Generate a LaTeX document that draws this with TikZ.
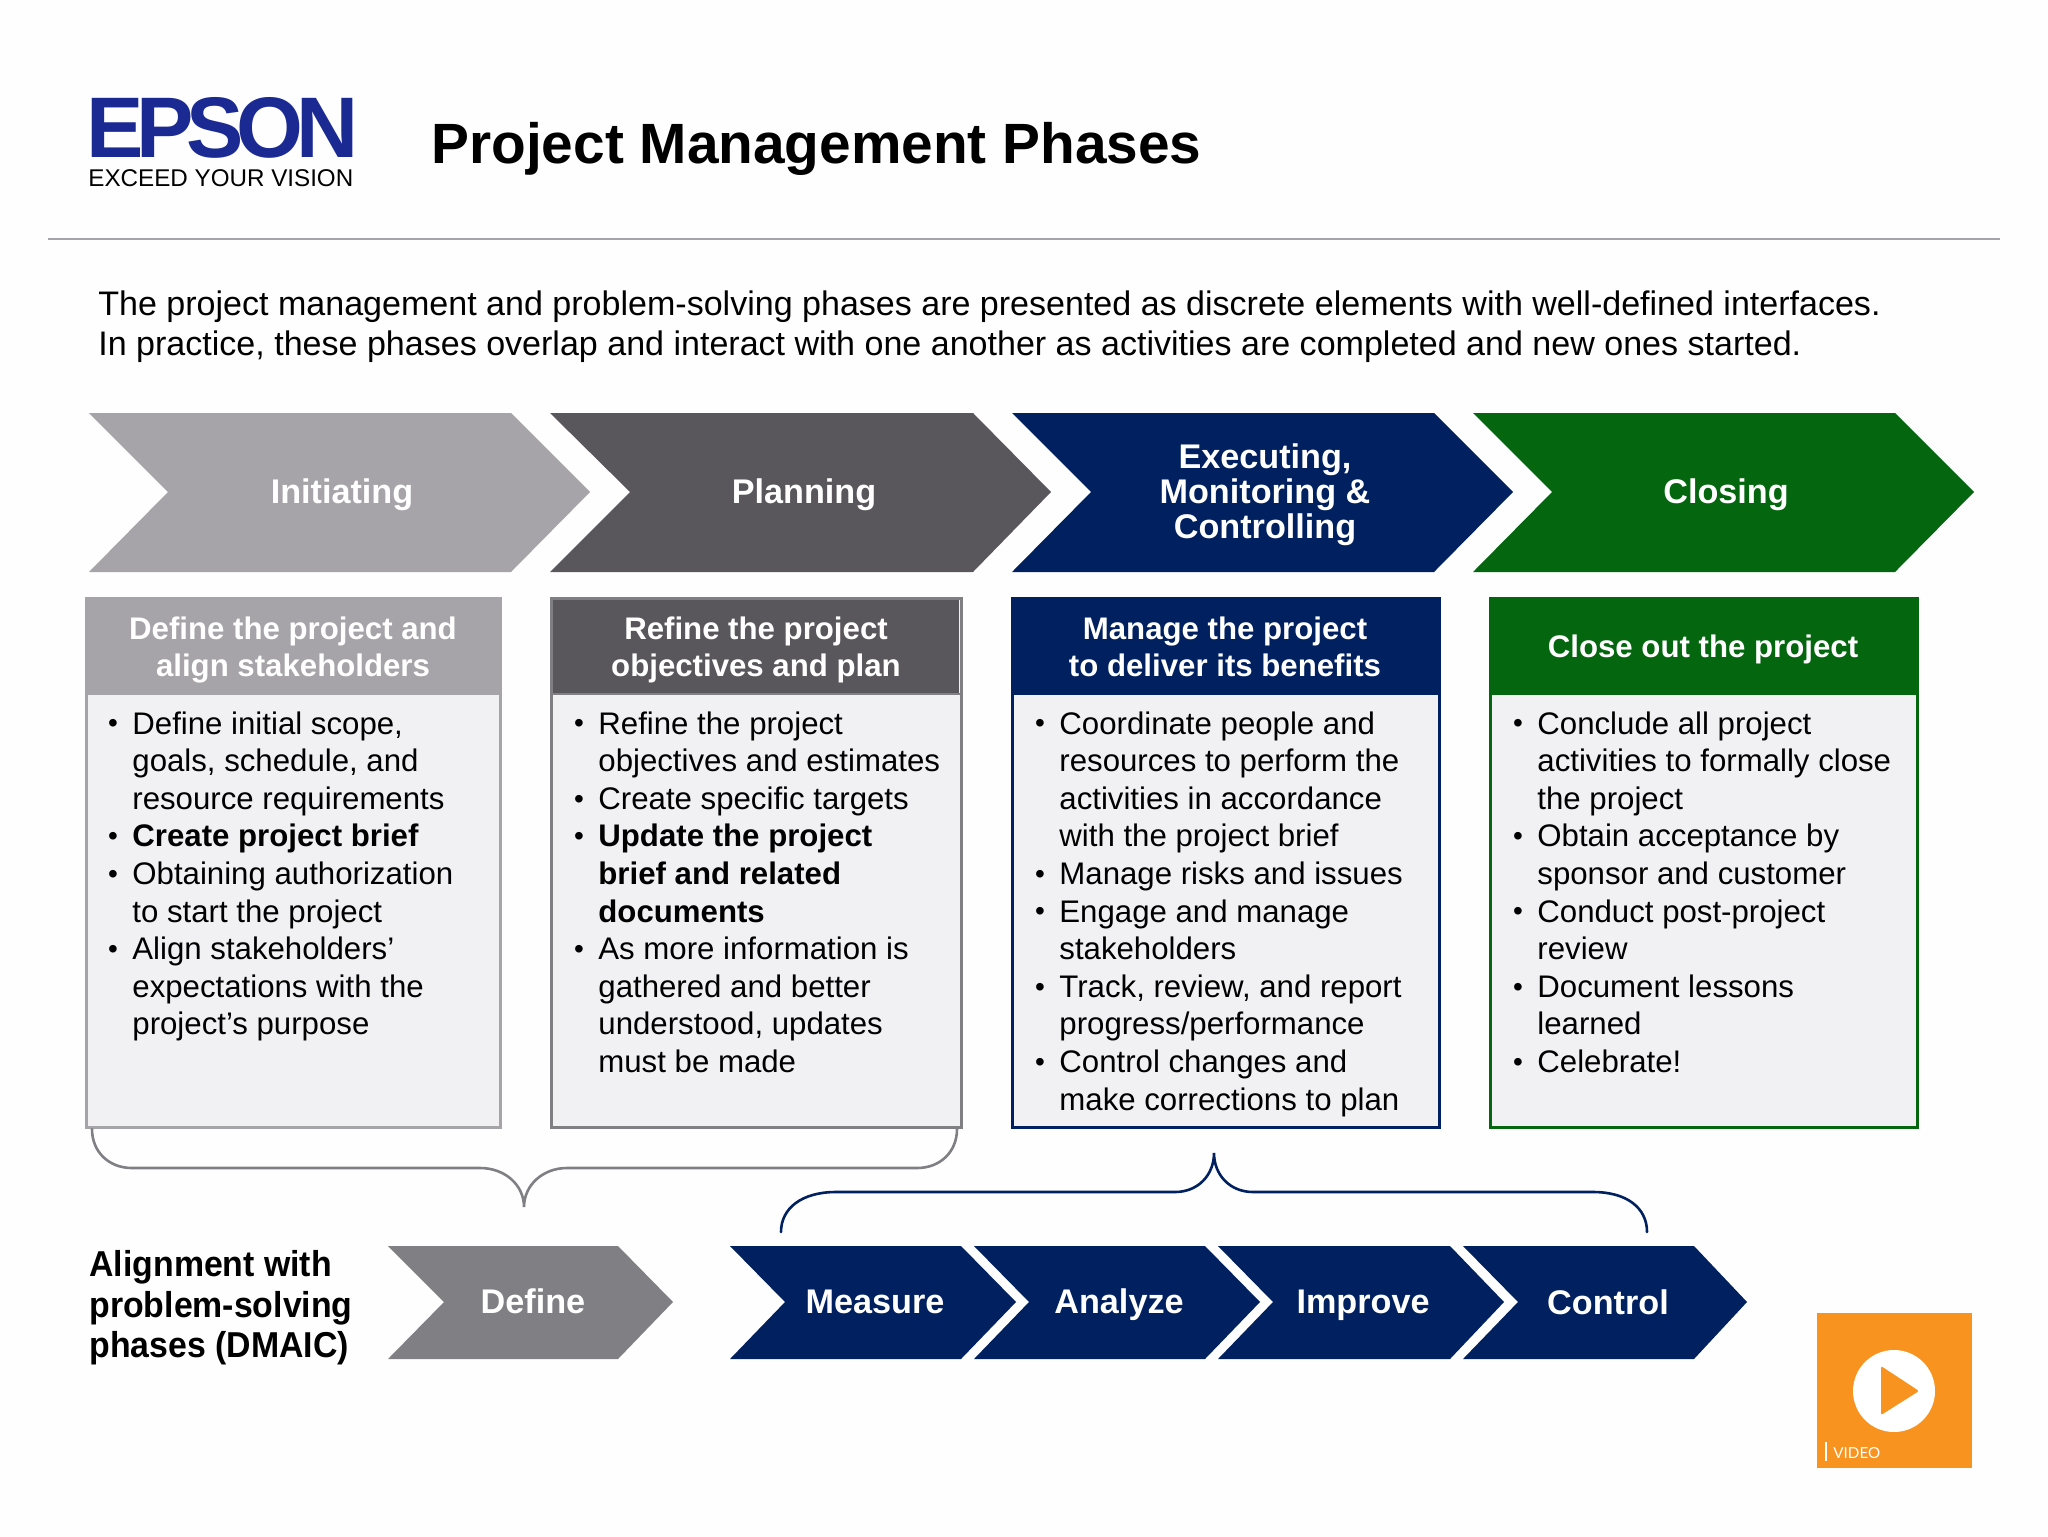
\documentclass[tikz,border=0pt]{standalone}
\usepackage{fontspec}
\setmainfont{Liberation Sans}
\newfontfamily\logofont[LetterSpace=-8.5]{Liberation Sans}
\newfontfamily\tilefont{Lato}
\newfontfamily\narrowfont[FakeStretch=0.94]{Liberation Sans}
\definecolor{pagebg}{HTML}{FEFEFE}
\definecolor{initgray}{HTML}{A6A4A8}
\definecolor{plangray}{HTML}{59575B}
\definecolor{execblue}{HTML}{00205F}
\definecolor{closegreen}{HTML}{04670F}
\definecolor{definegray}{HTML}{807F83}
\definecolor{panelbg}{HTML}{F1F0F3}
\definecolor{logoblue}{HTML}{1B2A93}
\definecolor{tileorange}{HTML}{F7931E}
\newcommand{\itm}{\llap{\raisebox{0.6pt}{\fontsize{14}{12}\selectfont\textbullet}\hspace{7.2pt}}}
\tikzset{
  phasetext/.style={text=white,font=\fontsize{17.1}{17.5}\selectfont\bfseries,align=center,inner sep=0pt},
  headtext/.style={text=white,font=\fontsize{15.6}{18.8}\selectfont\bfseries,align=center,inner sep=0pt},
  listtext/.style={anchor=north west,inner sep=0pt,align=left,font=\fontsize{15.6}{18.8}\selectfont},
  panel/.style={fill=panelbg,line width=1.5pt},
  bracket/.style={line width=1.3pt,line cap=round},
}
\begin{document}
\begin{tikzpicture}[x=0.5pt,y=-0.5pt]
\useasboundingbox (0,0) rectangle (2048,1536);
\fill[pagebg] (0,0) rectangle (2048,1536);
% header
\node[anchor=west,inner sep=0pt,text=logoblue,font=\fontsize{43}{43}\logofont\bfseries] (logo) at (86,128) {EPSON};
\node[anchor=west,inner sep=0pt,font=\fontsize{12.1}{12.1}\selectfont] (slogan) at (88,178) {EXCEED YOUR VISION};
\node[anchor=west,inner sep=0pt,font=\fontsize{28.4}{30}\selectfont\bfseries] (title) at (431,149) {Project Management Phases};
\draw[initgray,line width=1pt] (48,239) -- (2000,239);
\node[anchor=north west,inner sep=0pt,align=left,font=\fontsize{17.02}{20.4}\selectfont] (intro) at (98,290) {The project management and problem-solving phases are presented as discrete elements with well-defined interfaces.\\In practice, these phases overlap and interact with one another as activities are completed and new ones started.};
% phase chevrons
\fill[initgray] (89,413) -- (511,413) -- (590,492) -- (511,572) -- (89,572) -- (168,492) -- cycle;
\fill[plangray] (550,413) -- (973,413) -- (1051,492) -- (973,572) -- (550,572) -- (630,492) -- cycle;
\fill[execblue] (1012,413) -- (1434,413) -- (1513,492) -- (1434,572) -- (1012,572) -- (1091,492) -- cycle;
\fill[closegreen] (1473,413) -- (1895,413) -- (1974,492) -- (1895,572) -- (1473,572) -- (1552,492) -- cycle;
\node[phasetext] (initiating) at (342,495) {Initiating};
\node[phasetext] (planning) at (804,495) {Planning};
\node[phasetext] (executing) at (1265,495) {Executing,\\Monitoring \&\\Controlling};
\node[phasetext] (closing) at (1726,495) {Closing};
% panels
\draw[panel,draw=initgray] (86,598) rectangle (500,1127);
\fill[initgray] (85,597) rectangle (501,695);
\draw[panel,draw=definegray] (551,598) rectangle (961,1127);
\fill[plangray] (553,600) rectangle (959,693);
\draw[panel,draw=execblue] (1012,598) rectangle (1439,1127);
\fill[execblue] (1011,597) rectangle (1440,695);
\draw[panel,draw=closegreen] (1490,598) rectangle (1917,1127);
\fill[closegreen] (1489,597) rectangle (1918,695);
\draw[definegray,line width=1pt] (551,694) -- (961,694);
\node[headtext] (inithead) at (293,650) {Define the project and\\align stakeholders};
\node[headtext] (planhead) at (756,650) {Refine the project\\objectives and plan};
\node[headtext] (exechead) at (1225,647) {Manage the project\\to deliver its benefits};
\node[headtext] (closehead) at (1703,649) {Close out the project};
\node[listtext] (initlist) at (132,711) {\itm Define initial scope,\\goals, schedule, and\\resource requirements\\\itm\textbf{Create project brief}\\\itm Obtaining authorization\\to start the project\\\itm Align stakeholders’\\expectations with the\\project’s purpose};
\node[listtext] (planlist) at (598,711) {\itm Refine the project\\objectives and estimates\\\itm Create specific targets\\\itm\textbf{Update the project}\\\textbf{brief and related}\\\textbf{documents}\\\itm As more information is\\gathered and better\\understood, updates\\must be made};
\node[listtext] (execlist) at (1059,711) {\itm Coordinate people and\\resources to perform the\\activities in accordance\\with the project brief\\\itm Manage risks and issues\\\itm Engage and manage\\stakeholders\\\itm Track, review, and report\\progress/performance\\\itm Control changes and\\make corrections to plan};
\node[listtext] (closelist) at (1537,711) {\itm Conclude all project\\activities to formally close\\the project\\\itm Obtain acceptance by\\sponsor and customer\\\itm Conduct post-project\\review\\\itm Document lessons\\learned\\\itm Celebrate!};
% braces
\coordinate (graycusp) at (524,1207);
\coordinate (bluecusp) at (1214,1153);
\draw[bracket,definegray] (92,1129) .. controls (92,1152) and (109,1168) .. (132,1168) -- (480,1168) .. controls (505,1168) and (524,1185) .. (graycusp) .. controls (524,1185) and (543,1168) .. (567,1168) -- (917,1168) .. controls (940,1168) and (957,1152) .. (957,1129);
\draw[bracket,execblue] (781,1232) .. controls (781,1208) and (802,1192) .. (836,1192) -- (1175,1192) .. controls (1198,1192) and (1214,1175) .. (bluecusp) .. controls (1214,1175) and (1230,1192) .. (1253,1192) -- (1593,1192) .. controls (1627,1192) and (1647,1208) .. (1647,1232);
% dmaic row
\node[anchor=west,inner sep=0pt,align=left,font=\fontsize{18}{20.25}\narrowfont\bfseries] (dmaiclabel) at (89,1308) {Alignment with\\problem-solving\\phases (DMAIC)};
\fill[definegray] (388,1246) -- (618,1246) -- (673,1302) -- (618,1359) -- (388,1359) -- (444,1302) -- cycle;
\fill[execblue] (730,1246) -- (961,1246) -- (1016,1302) -- (961,1359) -- (730,1359) -- (785,1302) -- cycle;
\fill[execblue] (974,1246) -- (1205,1246) -- (1260,1302) -- (1205,1359) -- (974,1359) -- (1029,1302) -- cycle;
\fill[execblue] (1218,1246) -- (1450,1246) -- (1504,1302) -- (1450,1359) -- (1218,1359) -- (1273,1302) -- cycle;
\fill[execblue] (1463,1246) -- (1694,1246) -- (1747,1302) -- (1694,1359) -- (1463,1359) -- (1518,1302) -- cycle;
\node[phasetext] (define) at (533,1301) {Define};
\node[phasetext] (measure) at (875,1302) {Measure};
\node[phasetext] (analyze) at (1119,1305) {Analyze};
\node[phasetext] (improve) at (1363,1305) {Improve};
\node[phasetext] (control) at (1608,1302) {Control};
% video tile
\fill[tileorange] (1817,1313) rectangle (1972,1468);
\fill[white] (1894,1391) circle (41);
\fill[tileorange,rounded corners=1pt] (1881,1366) -- (1919,1391) -- (1881,1415) -- cycle;
\draw[white,line width=0.6pt] (1826,1442) -- (1826,1461);
\node[anchor=west,inner sep=0pt,text=white,font=\fontsize{7.6}{8}\tilefont] (videotag) at (1833,1453) {VIDEO};
\end{tikzpicture}
\end{document}
